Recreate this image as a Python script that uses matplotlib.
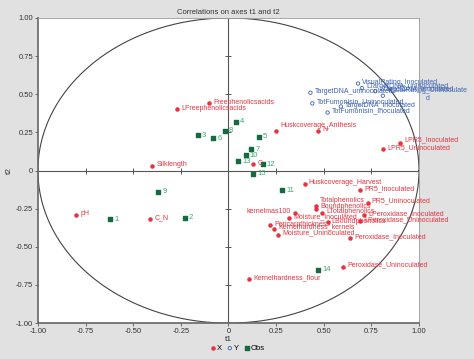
import numpy as np
import matplotlib.pyplot as plt

# Variables X (active)
x_names = ['Freephenolicsacids', 'LFreephenolicsacids', 'Huskcoverage_Anthesis', 'N',
           'LPR5_Inoculated', 'LPR5_Uninoculated', 'Silklength', 'C', 'pH', 'C_N',
           'Huskcoverage_Harvest', 'PR5_Inoculated', 'PR5_Uninoculated', 'Totalphenolics',
           'Boundphenolics', 'kernelmas100', 'Moisture_Inoculated', 'LTotalphenolics',
           'LPeroxidase_Inoculated', 'LPeroxidase_Uninoculated', 'LBoundphenolics',
           'Pericarpthickness', 'Kernelhardness_kernels', 'Moisture_Uninoculated',
           'Peroxidase_Inoculated', 'Peroxidase_Uninoculated', 'Kernelhardness_flour']
x_t1 = [-0.10, -0.27, 0.25, 0.47, 0.90, 0.81, -0.40, 0.13, -0.80, -0.41,
        0.40, 0.69, 0.73, 0.46, 0.46, 0.35, 0.32, 0.49,
        0.71, 0.69, 0.52, 0.22, 0.24, 0.26, 0.64, 0.60, 0.11]
x_t2 = [0.44, 0.40, 0.26, 0.26, 0.18, 0.14, 0.03, 0.04, -0.29, -0.32,
        -0.09, -0.13, -0.21, -0.23, -0.25, -0.28, -0.31, -0.28,
        -0.29, -0.33, -0.34, -0.36, -0.38, -0.42, -0.44, -0.63, -0.71]

# Variables Y
y_names = ['VisualRating_Inoculated', 'LTargetDNA_uninoculated', 'TargetDNA_uninoculated',
           'LTargetDNA_Inoculated', 'VisualRating_Uninoculate\nd', 'TotFumonisin_Uninoculated',
           'TargetDNA_Inoculated', 'TotFumonisin_Inoculated']
y_t1 = [0.68, 0.70, 0.43, 0.77, 0.81, 0.44, 0.59, 0.52]
y_t2 = [0.57, 0.54, 0.51, 0.52, 0.49, 0.44, 0.42, 0.38]

# Observations
obs_names = ['1', '2', '3', '4', '5', '6', '7', '8', '9', '10', '11', '12', '13', '14', '15']
obs_t1 = [-0.62, -0.23, -0.16, 0.04, 0.16, -0.08, 0.12, -0.02, -0.37, 0.09, 0.28, 0.18, 0.05, 0.47, 0.13]
obs_t2 = [-0.32, -0.31, 0.23, 0.32, 0.22, 0.21, 0.14, 0.26, -0.14, 0.10, -0.13, 0.04, 0.06, -0.65, -0.02]

# label placement tweaks (offset in points)
left_labels = {'kernelmas100'}
label_offsets = {'Huskcoverage_Anthesis': (3, 4), 'LPR5_Inoculated': (3, 2.5),
                 'Totalphenolics': (3, 3.5), 'Boundphenolics': (3, 1.5),
                 'kernelmas100': (-3, 1.5)}

red = '#e8323f'
blue = '#3b62b3'
green_mk = '#136b3f'
green_tx = '#3da474'
bg = '#e1e1e1'

plt.rcParams['font.family'] = ['Liberation Sans', 'DejaVu Sans']

fig = plt.figure(figsize=(4.74, 3.59), dpi=100, facecolor=bg)
ax = fig.add_axes([0.080, 0.100, 0.804, 0.850])
ax.set_facecolor('white')
ax.set_xlim(-1, 1)
ax.set_ylim(-1, 1)

# correlation circle and centre axes
th = np.linspace(0, 2 * np.pi, 400)
ax.plot(np.cos(th), np.sin(th), color='#444444', lw=0.8)
ax.axhline(0, color='#555555', lw=0.8)
ax.axvline(0, color='#555555', lw=0.8)
tk = [-0.75, -0.5, -0.25, 0.25, 0.5, 0.75]
ax.plot(tk, [0] * len(tk), ls='none', marker='|', ms=4, color='#555555', mew=0.7)
ax.plot([0] * len(tk), tk, ls='none', marker='_', ms=4, color='#555555', mew=0.7)

ax.scatter(x_t1, x_t2, s=5, color=red, zorder=3, label='X')
ax.scatter(y_t1, y_t2, s=6, facecolors='none', edgecolors=blue, linewidths=0.6, zorder=3, label='Y')
ax.scatter(obs_t1, obs_t2, s=6, marker='s', color=green_mk, zorder=3, label='Obs')

for n, a, b in zip(x_names, x_t1, x_t2):
    off = label_offsets.get(n, (3, 1))
    ha = 'right' if n in left_labels else 'left'
    ax.annotate(n, (a, b), xytext=off, textcoords='offset points', ha=ha, va='center',
                fontsize=5, color=red, clip_on=False)
for n, a, b in zip(y_names, y_t1, y_t2):
    ax.annotate(n, (a, b), xytext=(3, 1), textcoords='offset points', ha='left', va='center',
                fontsize=5, color=blue, clip_on=False, multialignment='center')
for n, a, b in zip(obs_names, obs_t1, obs_t2):
    ax.annotate(n, (a, b), xytext=(3, 0), textcoords='offset points', ha='left', va='center',
                fontsize=5.5, color=green_tx)

ticks = [-1, -0.75, -0.5, -0.25, 0, 0.25, 0.5, 0.75, 1]
tlabels = ['-1.00', '-0.75', '-0.50', '-0.25', '0', '0.25', '0.50', '0.75', '1.00']
ax.set_xticks(ticks)
ax.set_xticklabels(tlabels)
ax.set_yticks(ticks)
ax.set_yticklabels(tlabels)
ax.tick_params(labelsize=5.5, length=2, width=0.6, colors='#555555', labelcolor='#333333', pad=1.5)

for s in ['left', 'bottom']:
    ax.spines[s].set_color('#666666')
    ax.spines[s].set_linewidth(1.2)
for s in ['top', 'right']:
    ax.spines[s].set_color('#9a9a9a')
    ax.spines[s].set_linewidth(0.6)

ax.set_title('Correlations on axes t1 and t2', fontsize=5.5, color='#333333', pad=3)
ax.set_xlabel('t1', fontsize=6, color='#333333', labelpad=1)
ax.set_ylabel('t2', fontsize=6, color='#333333', labelpad=2)

fig.legend(loc='lower center', bbox_to_anchor=(0.5, 0.0), ncol=3, frameon=False, fontsize=5.5,
           handletextpad=0.05, columnspacing=0.5, markerscale=1.0, handlelength=1.0)

fig.savefig('out.png', dpi=100, facecolor=bg)
